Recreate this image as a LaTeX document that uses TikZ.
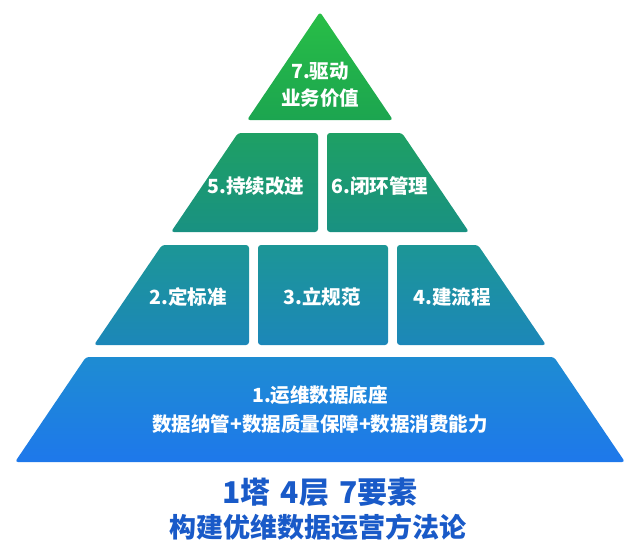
\documentclass[tikz,border=0pt]{standalone}
\usepackage{fontspec}
\newfontfamily\cjk{Noto Sans CJK SC}
\tikzset{
 lay/.style={rounded corners=3pt},
 lbl/.style={text=white,font=\cjk\bfseries\fontsize{19.5}{27}\selectfont,align=center}
}
\begin{document}
\begin{tikzpicture}[x=1pt,y=-1pt]
\useasboundingbox (0,0) rectangle (640,552);
% top
\shade[lay,top color={rgb,255:red,40;green,190;blue,70},bottom color={rgb,255:red,28;green,165;blue,80}]
 (320,12) -- (393,120) -- (247,120) -- cycle;
% layer 2
\tikzset{l2/.style={lay,top color={rgb,255:red,30;green,160;blue,100},bottom color={rgb,255:red,25;green,145;blue,130}}}
\shade[l2] (238,133) -- (318,133) -- (318,232) -- (171,232) -- cycle;
\shade[l2] (327,133) -- (402,133) -- (469,232) -- (327,232) -- cycle;
% layer 3
\tikzset{l3/.style={lay,top color={rgb,255:red,28;green,150;blue,150},bottom color={rgb,255:red,28;green,135;blue,185}}}
\shade[l3] (162,245) -- (249,245) -- (249,345) -- (94,345) -- cycle;
\shade[l3] (258,245) -- (388,245) -- (388,345) -- (258,345) -- cycle;
\shade[l3] (397,245) -- (478,245) -- (546,345) -- (397,345) -- cycle;
% layer 4
\shade[lay,top color={rgb,255:red,30;green,140;blue,210},bottom color={rgb,255:red,30;green,120;blue,235}]
 (86,357) -- (554,357) -- (625,462) -- (15,462) -- cycle;
% labels
\node[lbl] (t7) at (320,85) {7.驱动\\业务价值};
\node[lbl] (t5) at (256,186) {5.持续改进};
\node[lbl] (t6) at (380,186) {6.闭环管理};
\node[lbl] (t2) at (188,297) {2.定标准};
\node[lbl] (t3) at (322,297) {3.立规范};
\node[lbl] (t4) at (452,297) {4.建流程};
\node[lbl,font=\cjk\bfseries\fontsize{19.5}{29}\selectfont] (t1) at (320,409) {1.运维数据底座\\数据纳管+数据质量保障+数据消费能力};
\node[font=\cjk\bfseries\itshape\fontsize{30}{32}\selectfont,text={rgb,255:red,25;green,90;blue,200}] (h1) at (320,492) {1塔\,\,4层\,\,7要素};
\node[font=\cjk\bfseries\fontsize{27}{30}\selectfont,text={rgb,255:red,25;green,90;blue,200}] (h2) at (318,527) {构建优维数据运营方法论};
\end{tikzpicture}
\end{document}
